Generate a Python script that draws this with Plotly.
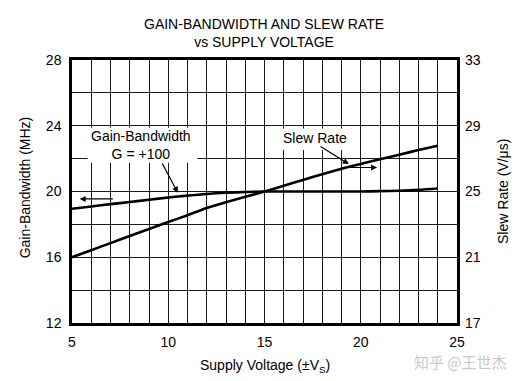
import plotly.graph_objects as go

supply_v = [5, 6, 7, 8, 9, 10, 11, 12, 13, 14, 15, 16, 17, 18, 19, 20, 21, 22, 23, 24]
gain_bw_mhz = [18.95, 19.09, 19.23, 19.36, 19.5, 19.63, 19.75, 19.85, 19.92, 19.97,
               20.0, 20.0, 20.0, 20.0, 20.0, 20.0, 20.02, 20.05, 20.1, 20.18]
slew_rate = [21.0, 21.43, 21.86, 22.29, 22.72, 23.14, 23.56, 24.0, 24.35, 24.68,
             25.0, 25.35, 25.7, 26.05, 26.38, 26.68, 26.96, 27.24, 27.52, 27.78]

x_ticks = list(range(5, 26))
x_labels = [str(v) if v % 5 == 0 else "" for v in x_ticks]
y_ticks = list(range(12, 29, 2))
y_labels = [str(v) if v % 4 == 0 else "" for v in y_ticks]
y2_ticks = [17, 21, 25, 29, 33]

FONT = "Liberation Sans, Arial, sans-serif"

fig = go.Figure()
fig.add_trace(go.Scatter(x=supply_v, y=gain_bw_mhz, mode="lines",
                         line=dict(color="black", width=2.6, shape="spline", smoothing=0.8),
                         showlegend=False))
fig.add_trace(go.Scatter(x=supply_v, y=slew_rate, mode="lines", yaxis="y2",
                         line=dict(color="black", width=2.6, shape="spline", smoothing=0.6),
                         showlegend=False))

# white label boxes over the grid
fig.add_shape(type="rect", xref="x", yref="y", x0=5.81, x1=11.51, y0=21.75, y1=23.88,
              fillcolor="white", line=dict(width=0), layer="above")
fig.add_shape(type="rect", xref="x", yref="y", x0=15.8, x1=19.5, y0=22.53, y1=23.83,
              fillcolor="white", line=dict(width=0), layer="above")

ann = []
ann.append(dict(xref="x", yref="y", x=8.6, y=22.82, text="Gain-Bandwidth<br>G = +100",
                showarrow=False, font=dict(size=14, color="black", family=FONT)))
ann.append(dict(xref="x", yref="y2", x=17.63, y=28.26, text="Slew Rate",
                showarrow=False, font=dict(size=14, color="black", family=FONT)))
# pointer arrows
ann.append(dict(xref="x", yref="y", x=10.5, y=19.92, ax=9.65, ay=21.8, axref="x", ayref="y",
                text="", showarrow=True, arrowhead=2, arrowsize=1, arrowwidth=1.2, arrowcolor="black"))
ann.append(dict(xref="x", yref="y", x=5.4, y=19.55, ax=7.2, ay=19.55, axref="x", ayref="y",
                text="", showarrow=True, arrowhead=2, arrowsize=1, arrowwidth=1.2, arrowcolor="black"))
ann.append(dict(xref="x", yref="y2", x=19.38, y=26.67, ax=17.83, ay=27.8, axref="x", ayref="y2",
                text="", showarrow=True, arrowhead=2, arrowsize=1, arrowwidth=1.2, arrowcolor="black"))
ann.append(dict(xref="x", yref="y2", x=20.85, y=26.46, ax=19.22, ay=26.46, axref="x", ayref="y2",
                text="", showarrow=True, arrowhead=2, arrowsize=1, arrowwidth=1.2, arrowcolor="black"))
# titles
ann.append(dict(xref="paper", yref="paper", x=0.499, y=1.103, xanchor="center", yanchor="middle",
                text="GAIN-BANDWIDTH AND SLEW RATE<br>vs SUPPLY VOLTAGE", showarrow=False,
                font=dict(size=14, color="black", family=FONT)))
ann.append(dict(xref="paper", yref="paper", x=0.501, y=-0.162, xanchor="center", yanchor="middle",
                text="Supply Voltage (±V<sub>S</sub>)", showarrow=False,
                font=dict(size=14, color="black", family=FONT)))
ann.append(dict(xref="paper", yref="paper", x=-0.122, y=0.516, xanchor="center", yanchor="middle",
                text="Gain-Bandwidth (MHz)", textangle=-90, showarrow=False,
                font=dict(size=14, color="black", family=FONT)))
ann.append(dict(xref="paper", yref="paper", x=1.12, y=0.499, xanchor="center", yanchor="middle",
                text="Slew Rate (V/μs)", textangle=-90, showarrow=False,
                font=dict(size=14, color="black", family=FONT)))
ann.append(dict(xref="paper", yref="paper", x=1.01, y=-0.145, xanchor="center", yanchor="middle",
                text="知乎 @王世杰", showarrow=False,
                font=dict(size=15, color="#c8c8c8", family="Noto Sans CJK SC")))

fig.update_layout(
    width=526, height=381,
    margin=dict(l=72, r=69, t=60, b=58),
    paper_bgcolor="white", plot_bgcolor="white",
    font=dict(family=FONT, size=14, color="black"),
    showlegend=False,
    annotations=ann,
    xaxis=dict(range=[5, 25], tickvals=x_ticks, ticktext=x_labels, showgrid=True,
               gridcolor="#1a1a1a", gridwidth=1, showline=True, linecolor="black", linewidth=2.5,
               mirror=True, ticks="", zeroline=False, ticklabelstandoff=4,
               tickfont=dict(size=14, family=FONT, color="black")),
    yaxis=dict(range=[12, 28], tickvals=y_ticks, ticktext=y_labels, showgrid=True,
               gridcolor="#1a1a1a", gridwidth=1, showline=True, linecolor="black", linewidth=2.5,
               mirror=True, ticks="", zeroline=False, ticklabelstandoff=5,
               tickfont=dict(size=14, family=FONT, color="black")),
    yaxis2=dict(range=[17, 33], tickvals=y2_ticks, overlaying="y", side="right",
                showgrid=False, zeroline=False, ticks="", showline=False, ticklabelstandoff=7,
                tickfont=dict(size=14, family=FONT, color="black")),
)

fig.write_html("out.html", config={"displayModeBar": False},
               post_script="document.body.style.margin='0';document.body.style.overflow='hidden';")
